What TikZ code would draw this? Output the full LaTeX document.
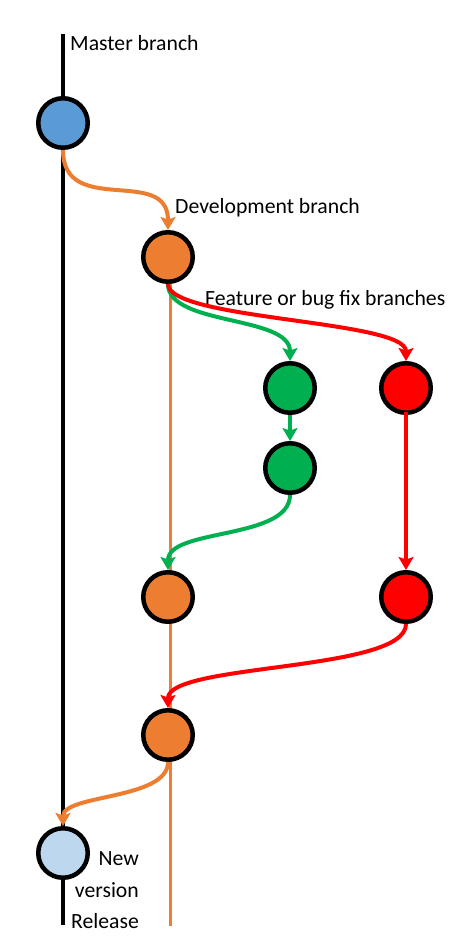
\documentclass[tikz,border=0pt]{standalone}
\usepackage{fontspec}
\setmainfont{Carlito}
\usetikzlibrary{arrows.meta,backgrounds}
\definecolor{mblue}{HTML}{5B9BD5}
\definecolor{morange}{HTML}{ED7D31}
\definecolor{mgreen}{HTML}{00B050}
\definecolor{mred}{HTML}{FF0000}
\definecolor{mlight}{HTML}{BDD7EE}
\tikzset{
  commit/.style={circle,draw=black,line width=4.5pt,minimum size=49.5pt,inner sep=0pt},
  lbl/.style={inner sep=0pt,font=\fontsize{21.7pt}{26pt}\selectfont},
  branchline/.style={line width=3pt},
  merge/.style={line width=4pt,-{Stealth[length=13pt,width=15pt,inset=2.5pt]}},
}
\begin{document}
\begin{tikzpicture}[x=1pt,y=-1pt]
\useasboundingbox (0,0) rectangle (474,948);
% commits
\node[commit,fill=mblue]   (m1) at (63,123) {};
\node[commit,fill=morange] (d1) at (168,257) {};
\node[commit,fill=mgreen]  (g1) at (290,388) {};
\node[commit,fill=mgreen]  (g2) at (290,468) {};
\node[commit,fill=mred]    (r1) at (406,388) {};
\node[commit,fill=mred]    (r2) at (406,597) {};
\node[commit,fill=morange] (d2) at (168,597) {};
\node[commit,fill=morange] (d3) at (168,735) {};
\node[commit,fill=mlight]  (m2) at (63,853) {};
% branch line ends
\coordinate (mtop) at (63,34);
\coordinate (mbot) at (63,925);
\coordinate (dbot) at (170,926);
% labels
\node[lbl,anchor=base west] (tmaster) at (70,50) {Master branch};
\node[lbl,anchor=base west] (tdev) at (175,213) {Development branch};
\node[lbl,anchor=base west] (tfeat) at (205,305) {Feature or bug fix branches};
\node[lbl,anchor=base east] (tnew) at (139,865) {New};
\node[lbl,anchor=base east] (tver) at (139,897) {version};
\node[lbl,anchor=base east] (trel) at (139,928) {Release};
\begin{scope}[on background layer]
  \draw[branchline,line width=4pt,black] (mtop) -- (mbot);
  \draw[branchline,morange] (d1.center -| dbot) -- (dbot);
\end{scope}
% merges and branches
\draw[merge,morange] (m1.south) .. controls +(0,68) and +(0,-65) .. (d1.north);
\draw[merge,mgreen] (d1.south) .. controls +(0,42) and +(0,-46) .. (g1.north);
\draw[merge,mred] (d1.south) .. controls +(0,36) and +(0,-41) .. (r1.north);
\draw[merge,mgreen] (g1.south) -- (g2.north);
\draw[merge,mred] ([yshift=3pt]r1.south) -- (r2.north);
\draw[merge,mgreen] (g2.south) .. controls +(0,45) and +(0,-42) .. (d2.north);
\draw[merge,mred] (r2.south) .. controls +(0,48) and +(0,-45) .. (d3.north);
\draw[merge,morange] (d3.south) .. controls +(0,38) and +(0,-32) .. (m2.north);
\end{tikzpicture}
\end{document}
